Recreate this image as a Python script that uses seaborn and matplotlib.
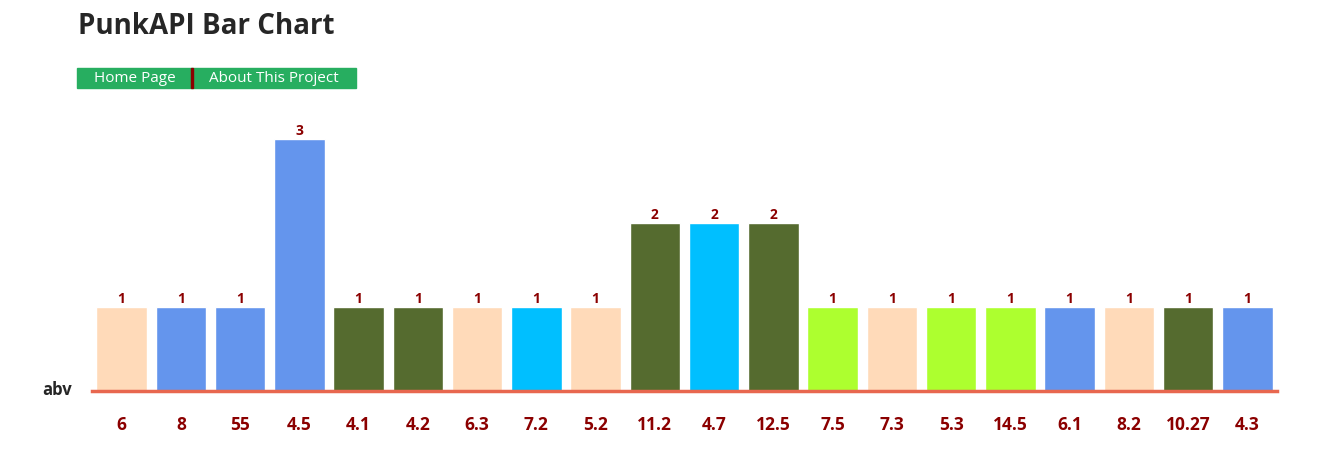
import matplotlib
matplotlib.use("Agg")
import matplotlib.pyplot as plt
import seaborn as sns
import pandas as pd
from matplotlib.patches import Rectangle

categories = ["6","8","55","4.5","4.1","4.2","6.3","7.2","5.2","11.2","4.7","12.5","7.5","7.3","5.3","14.5","6.1","8.2","10.27","4.3"]
counts = [1,1,1,3,1,1,1,1,1,2,2,2,1,1,1,1,1,1,1,1]
colors = ["#FFDAB9","#6495ED","#6495ED","#6495ED","#556B2F","#556B2F","#FFDAB9","#00BFFF","#FFDAB9","#556B2F",
          "#00BFFF","#556B2F","#ADFF2F","#FFDAB9","#ADFF2F","#ADFF2F","#6495ED","#FFDAB9","#556B2F","#6495ED"]

sns.set_style("white")
plt.rcParams['font.family'] = ['Open Sans', 'DejaVu Sans']
W, H = 1338, 462
fig = plt.figure(figsize=(W/100, H/100), dpi=100)
ax = fig.add_axes([92/W, 71/H, 1185/W, 252/H])
df = pd.DataFrame({"abv": categories, "count": counts})
sns.barplot(data=df, x="abv", y="count", hue="abv", order=categories, hue_order=categories,
            palette=colors, legend=False, width=0.85, saturation=1, ax=ax)
ax.set_ylim(0, 3)
ax.set_xlim(-0.5, len(categories)-0.5)
for c in ax.containers:
    ax.bar_label(c, fmt="%d", color="#8B0000", fontweight="bold", fontsize=10, padding=1)
for s in ["top", "right", "left"]:
    ax.spines[s].set_visible(False)
ax.spines["bottom"].set_color("#E8674F")
ax.spines["bottom"].set_linewidth(2.5)
ax.set_yticks([])
ax.set_xlabel("")
ax.set_ylabel("")
ax.tick_params(axis="x", length=0, pad=18, labelsize=12.5, labelcolor="#8B0000")
for t in ax.get_xticklabels():
    t.set_fontweight("bold")
fig.text(42/W, 1-390/H, "abv", fontsize=12, fontweight="bold", va="center", ha="left")
fig.text(78/W, 1-27/H, "PunkAPI Bar Chart", fontsize=20, fontweight="bold", va="center", ha="left")
fig.patches.append(Rectangle((77/W, 1-88/H), 279/W, 20/H, transform=fig.transFigure, color="#27AE60"))
fig.patches.append(Rectangle((191/W, 1-88/H), 2/W, 20/H, transform=fig.transFigure, color="#8B0000"))
fig.text(135/W, 1-79/H, "Home Page", fontsize=11, color="white", va="center", ha="center")
fig.text(274/W, 1-79/H, "About This Project", fontsize=11, color="white", va="center", ha="center")
fig.savefig("out.png", dpi=100)
